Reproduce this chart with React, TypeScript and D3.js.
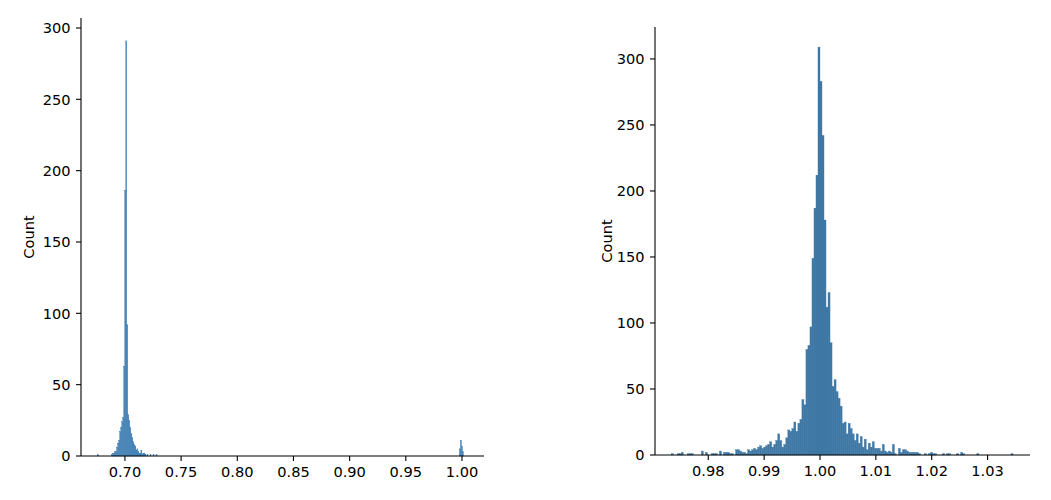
import React from "react";
import * as d3 from "d3";

// left panel: two clusters of 0.0009 wide bins
const leftBinWidth = 0.0009;
const leftMainStart = 0.6755;
const leftMainCounts = [
  1, 0, 0, 0, 0, 0, 0, 0, 0, 0, 0, 0, 0, 0, 1, 2, 2, 3, 3, 6, 9, 11, 17, 20, 24,
  27, 63, 186, 291, 92, 29, 25, 20, 16, 13, 10, 8, 7, 4, 5, 3, 2, 2, 4, 1, 2, 2,
  1, 0, 1, 0, 0, 1, 0, 0, 1, 0, 0, 1,
];
const leftEdgeStart = 0.9977;
const leftEdgeCounts = [5, 11, 7, 3];
const leftXTicks = [0.7, 0.75, 0.8, 0.85, 0.9, 0.95, 1.0];
const leftYTicks = [0, 50, 100, 150, 200, 250, 300];

// right panel: 0.00036 wide bins
const rightBinWidth = 0.00036;
const rightStart = 0.97336;
const rightCounts = [
  1, 0, 0, 1, 1, 2, 0, 0, 1, 1, 1, 0, 0, 0, 0, 3, 0, 2, 0, 0, 1, 1, 1, 0, 3, 0,
  2, 2, 2, 1, 1, 0, 4, 4, 3, 2, 2, 1, 4, 3, 4, 5, 4, 6, 7, 5, 6, 7, 8, 10, 6, 8,
  11, 16, 11, 6, 8, 13, 19, 18, 20, 25, 18, 24, 27, 42, 38, 80, 83, 97, 149, 187,
  212, 309, 283, 242, 178, 112, 123, 85, 52, 57, 48, 43, 37, 24, 25, 16, 24, 20,
  16, 11, 16, 9, 14, 6, 12, 4, 9, 6, 10, 5, 5, 5, 3, 8, 3, 2, 3, 2, 8, 1, 0, 5,
  2, 4, 4, 3, 2, 2, 2, 2, 2, 1, 0, 0, 1, 0, 1, 2, 1, 1, 0, 0, 0, 1, 0, 1, 1, 0,
  0, 0, 1, 0, 2, 1, 0, 0, 0, 0, 0, 0, 1, 0, 0, 0, 0, 0, 0, 0, 0, 0, 0, 0, 0, 0,
  0, 0, 0, 1, 0, 0,
];
const rightXTicks = [0.98, 0.99, 1.0, 1.01, 1.02, 1.03];
const rightYTicks = [0, 50, 100, 150, 200, 250, 300];

type Bin = { x0: number; x1: number; count: number };

const toBins = (start: number, width: number, counts: number[]): Bin[] =>
  counts.map((c, i) => ({ x0: start + i * width, x1: start + (i + 1) * width, count: c }));

const font = "DejaVu Sans, sans-serif";
const fs = 14.6;

function Hist(props: {
  bins: Bin[];
  xDomain: [number, number];
  yDomain: [number, number];
  box: { left: number; right: number; top: number; bottom: number };
  xTicks: number[];
  yTicks: number[];
  fill: string;
  labelX: number;
  labelY: number;
}) {
  const { bins, box } = props;
  const x = d3.scaleLinear(props.xDomain, [box.left, box.right]);
  const y = d3.scaleLinear(props.yDomain, [box.bottom, box.top]);
  const fmt = d3.format(".2f");

  return (
    <g>
      {bins
        .filter((b) => b.count > 0)
        .map((b, i) => (
          <rect
            key={i}
            x={x(b.x0)}
            y={y(b.count)}
            width={x(b.x1) - x(b.x0)}
            height={y(0) - y(b.count)}
            fill={props.fill}
            stroke={props.fill}
            strokeWidth={0.35}
          />
        ))}

      {/* spines */}
      <line x1={box.left} x2={box.left} y1={box.top} y2={box.bottom} stroke="#000" strokeWidth={1.1} />
      <line x1={box.left} x2={box.right} y1={box.bottom} y2={box.bottom} stroke="#000" strokeWidth={1.1} />

      {props.yTicks.map((t) => (
        <g key={"y" + t} transform={`translate(0,${y(t)})`}>
          <line x1={box.left - 5} x2={box.left} stroke="#000" strokeWidth={1.1} />
          <text x={box.left - 10.5} dy="0.36em" textAnchor="end" fontSize={fs} fontFamily={font} fill="#000">
            {t}
          </text>
        </g>
      ))}

      {props.xTicks.map((t) => (
        <g key={"x" + t} transform={`translate(${x(t)},0)`}>
          <line y1={box.bottom} y2={box.bottom + 5} stroke="#000" strokeWidth={1.1} />
          <text y={box.bottom + 21} textAnchor="middle" fontSize={fs} fontFamily={font} fill="#000">
            {fmt(t)}
          </text>
        </g>
      ))}

      <text
        transform={`translate(${props.labelX},${props.labelY}) rotate(-90)`}
        textAnchor="middle"
        fontSize={fs}
        fontFamily={font}
        fill="#000"
      >
        Count
      </text>
    </g>
  );
}

export default function App() {
  const leftBins = [
    ...toBins(leftMainStart, leftBinWidth, leftMainCounts),
    ...toBins(leftEdgeStart, leftBinWidth, leftEdgeCounts),
  ];
  const rightBins = toBins(rightStart, rightBinWidth, rightCounts);

  return (
    <svg width={1051} height={500} style={{ position: "absolute", left: 0, top: 0, background: "#fff" }}>
      <Hist
        bins={leftBins}
        xDomain={[0.6609, 1.0196]}
        yDomain={[0, 307]}
        box={{ left: 81, right: 484, top: 18, bottom: 456 }}
        xTicks={leftXTicks}
        yTicks={leftYTicks}
        fill="#3d7db2"
        labelX={34}
        labelY={237}
      />
      <Hist
        bins={rightBins}
        xDomain={[0.97046, 1.0376]}
        yDomain={[0, 324.2]}
        box={{ left: 655, right: 1030, top: 27, bottom: 455 }}
        xTicks={rightXTicks}
        yTicks={rightYTicks}
        fill="#3f78a5"
        labelX={612}
        labelY={241}
      />
    </svg>
  );
}
